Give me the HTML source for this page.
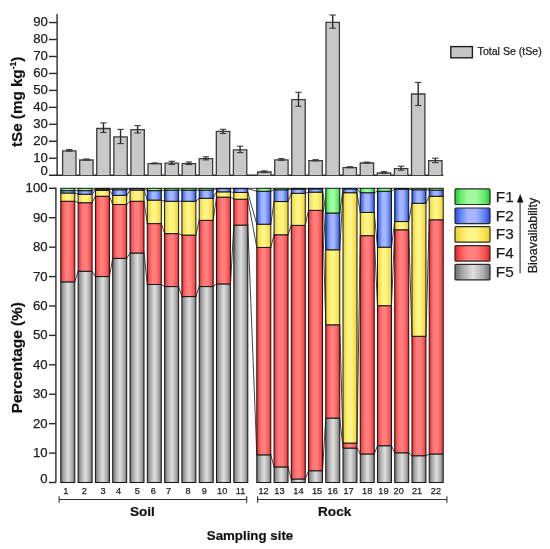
<!DOCTYPE html>
<html><head><meta charset="utf-8"><title>Total Se and fractions</title>
<style>html,body{margin:0;padding:0;background:#fff;}svg{display:block;}text{font-family:"Liberation Sans",Arial,sans-serif;fill:#1e1e1e;}text.t{stroke:#1e1e1e;stroke-width:0.25px;}text.b{fill:#111;stroke:#111;stroke-width:0.2px;font-weight:bold;}</style>
</head><body>
<svg width="550" height="549" viewBox="0 0 550 549">
<defs>
<linearGradient id="gg" x1="0" y1="0" x2="1" y2="0"><stop offset="0" stop-color="#1fc82e"/><stop offset="0.14" stop-color="#5ee866"/><stop offset="0.36" stop-color="#a0fa9e"/><stop offset="0.6" stop-color="#a0fa9e"/><stop offset="0.86" stop-color="#5ee866"/><stop offset="1" stop-color="#1fc82e"/></linearGradient>
<linearGradient id="gb" x1="0" y1="0" x2="1" y2="0"><stop offset="0" stop-color="#2248dc"/><stop offset="0.14" stop-color="#5a7cf0"/><stop offset="0.36" stop-color="#a3b6ff"/><stop offset="0.6" stop-color="#a3b6ff"/><stop offset="0.86" stop-color="#5a7cf0"/><stop offset="1" stop-color="#2248dc"/></linearGradient>
<linearGradient id="gy" x1="0" y1="0" x2="1" y2="0"><stop offset="0" stop-color="#e8ca26"/><stop offset="0.14" stop-color="#f6e04c"/><stop offset="0.36" stop-color="#fff486"/><stop offset="0.6" stop-color="#fff486"/><stop offset="0.86" stop-color="#f6e04c"/><stop offset="1" stop-color="#e8ca26"/></linearGradient>
<linearGradient id="gr" x1="0" y1="0" x2="1" y2="0"><stop offset="0" stop-color="#e41e1e"/><stop offset="0.14" stop-color="#f95252"/><stop offset="0.36" stop-color="#ff7e7e"/><stop offset="0.6" stop-color="#ff7e7e"/><stop offset="0.86" stop-color="#f95252"/><stop offset="1" stop-color="#e41e1e"/></linearGradient>
<linearGradient id="gk" x1="0" y1="0" x2="1" y2="0"><stop offset="0" stop-color="#6c6c6c"/><stop offset="0.22" stop-color="#aaaaaa"/><stop offset="0.52" stop-color="#e0e0e0"/><stop offset="0.82" stop-color="#aaaaaa"/><stop offset="1" stop-color="#6c6c6c"/></linearGradient>
</defs>
<rect width="550" height="549" fill="#fff"/>
<g stroke="#2a2a2a" stroke-width="1.4" fill="none">
<line x1="57.1" y1="14" x2="57.1" y2="175.2"/>
<line x1="49" y1="175.2" x2="443.3" y2="175.2"/>
<line x1="49" y1="158.24" x2="57" y2="158.24"/>
<line x1="49" y1="141.28" x2="57" y2="141.28"/>
<line x1="49" y1="124.32" x2="57" y2="124.32"/>
<line x1="49" y1="107.36" x2="57" y2="107.36"/>
<line x1="49" y1="90.40" x2="57" y2="90.40"/>
<line x1="49" y1="73.44" x2="57" y2="73.44"/>
<line x1="49" y1="56.48" x2="57" y2="56.48"/>
<line x1="49" y1="39.52" x2="57" y2="39.52"/>
<line x1="49" y1="22.56" x2="57" y2="22.56"/>
</g>
<text class="t" x="47.8" y="175.00" font-size="13.2" text-anchor="end">0</text>
<text class="t" x="47.8" y="162.04" font-size="13.2" text-anchor="end">10</text>
<text class="t" x="47.8" y="145.08" font-size="13.2" text-anchor="end">20</text>
<text class="t" x="47.8" y="128.12" font-size="13.2" text-anchor="end">30</text>
<text class="t" x="47.8" y="111.16" font-size="13.2" text-anchor="end">40</text>
<text class="t" x="47.8" y="94.20" font-size="13.2" text-anchor="end">50</text>
<text class="t" x="47.8" y="77.24" font-size="13.2" text-anchor="end">60</text>
<text class="t" x="47.8" y="60.28" font-size="13.2" text-anchor="end">70</text>
<text class="t" x="47.8" y="43.32" font-size="13.2" text-anchor="end">80</text>
<text class="t" x="47.8" y="26.36" font-size="13.2" text-anchor="end">90</text>
<rect x="62.60" y="150.80" width="13.40" height="24.40" fill="#c8c8c8" stroke="none"/>
<path d="M62.60,175.2 V150.80 H76.00 V175.2" fill="none" stroke="#3c3c3c" stroke-width="1.3"/>
<line x1="69.30" y1="149.60" x2="69.30" y2="151.20" stroke="#2a2a2a" stroke-width="1.4"/><g stroke="#3a3a3a" stroke-width="1.1"><line x1="66.10" y1="149.60" x2="72.50" y2="149.60"/><line x1="66.10" y1="151.20" x2="72.50" y2="151.20"/></g>
<rect x="79.68" y="160.00" width="13.40" height="15.20" fill="#c8c8c8" stroke="none"/>
<path d="M79.68,175.2 V160.00 H93.08 V175.2" fill="none" stroke="#3c3c3c" stroke-width="1.3"/>
<line x1="86.38" y1="159.00" x2="86.38" y2="160.20" stroke="#2a2a2a" stroke-width="1.4"/><g stroke="#3a3a3a" stroke-width="1.1"><line x1="83.18" y1="159.00" x2="89.58" y2="159.00"/><line x1="83.18" y1="160.20" x2="89.58" y2="160.20"/></g>
<rect x="96.76" y="128.50" width="13.40" height="46.70" fill="#c8c8c8" stroke="none"/>
<path d="M96.76,175.2 V128.50 H110.16 V175.2" fill="none" stroke="#3c3c3c" stroke-width="1.3"/>
<line x1="103.46" y1="122.90" x2="103.46" y2="132.50" stroke="#2a2a2a" stroke-width="1.4"/><g stroke="#3a3a3a" stroke-width="1.1"><line x1="100.26" y1="122.90" x2="106.66" y2="122.90"/><line x1="100.26" y1="132.50" x2="106.66" y2="132.50"/></g>
<rect x="113.84" y="136.90" width="13.40" height="38.30" fill="#c8c8c8" stroke="none"/>
<path d="M113.84,175.2 V136.90 H127.24 V175.2" fill="none" stroke="#3c3c3c" stroke-width="1.3"/>
<line x1="120.54" y1="129.40" x2="120.54" y2="143.60" stroke="#2a2a2a" stroke-width="1.4"/><g stroke="#3a3a3a" stroke-width="1.1"><line x1="117.34" y1="129.40" x2="123.74" y2="129.40"/><line x1="117.34" y1="143.60" x2="123.74" y2="143.60"/></g>
<rect x="130.92" y="129.60" width="13.40" height="45.60" fill="#c8c8c8" stroke="none"/>
<path d="M130.92,175.2 V129.60 H144.32 V175.2" fill="none" stroke="#3c3c3c" stroke-width="1.3"/>
<line x1="137.62" y1="125.60" x2="137.62" y2="133.00" stroke="#2a2a2a" stroke-width="1.4"/><g stroke="#3a3a3a" stroke-width="1.1"><line x1="134.42" y1="125.60" x2="140.82" y2="125.60"/><line x1="134.42" y1="133.00" x2="140.82" y2="133.00"/></g>
<rect x="148.00" y="163.70" width="13.40" height="11.50" fill="#c8c8c8" stroke="none"/>
<path d="M148.00,175.2 V163.70 H161.40 V175.2" fill="none" stroke="#3c3c3c" stroke-width="1.3"/>
<line x1="154.70" y1="162.90" x2="154.70" y2="163.70" stroke="#2a2a2a" stroke-width="1.4"/><g stroke="#3a3a3a" stroke-width="1.1"><line x1="151.50" y1="162.90" x2="157.90" y2="162.90"/><line x1="151.50" y1="163.70" x2="157.90" y2="163.70"/></g>
<rect x="165.08" y="163.10" width="13.40" height="12.10" fill="#c8c8c8" stroke="none"/>
<path d="M165.08,175.2 V163.10 H178.48 V175.2" fill="none" stroke="#3c3c3c" stroke-width="1.3"/>
<line x1="171.78" y1="161.30" x2="171.78" y2="164.40" stroke="#2a2a2a" stroke-width="1.4"/><g stroke="#3a3a3a" stroke-width="1.1"><line x1="168.58" y1="161.30" x2="174.98" y2="161.30"/><line x1="168.58" y1="164.40" x2="174.98" y2="164.40"/></g>
<rect x="182.16" y="163.60" width="13.40" height="11.60" fill="#c8c8c8" stroke="none"/>
<path d="M182.16,175.2 V163.60 H195.56 V175.2" fill="none" stroke="#3c3c3c" stroke-width="1.3"/>
<line x1="188.86" y1="162.00" x2="188.86" y2="164.50" stroke="#2a2a2a" stroke-width="1.4"/><g stroke="#3a3a3a" stroke-width="1.1"><line x1="185.66" y1="162.00" x2="192.06" y2="162.00"/><line x1="185.66" y1="164.50" x2="192.06" y2="164.50"/></g>
<rect x="199.24" y="158.60" width="13.40" height="16.60" fill="#c8c8c8" stroke="none"/>
<path d="M199.24,175.2 V158.60 H212.64 V175.2" fill="none" stroke="#3c3c3c" stroke-width="1.3"/>
<line x1="205.94" y1="156.80" x2="205.94" y2="159.90" stroke="#2a2a2a" stroke-width="1.4"/><g stroke="#3a3a3a" stroke-width="1.1"><line x1="202.74" y1="156.80" x2="209.14" y2="156.80"/><line x1="202.74" y1="159.90" x2="209.14" y2="159.90"/></g>
<rect x="216.32" y="131.40" width="13.40" height="43.80" fill="#c8c8c8" stroke="none"/>
<path d="M216.32,175.2 V131.40 H229.72 V175.2" fill="none" stroke="#3c3c3c" stroke-width="1.3"/>
<line x1="223.02" y1="129.30" x2="223.02" y2="133.50" stroke="#2a2a2a" stroke-width="1.4"/><g stroke="#3a3a3a" stroke-width="1.1"><line x1="219.82" y1="129.30" x2="226.22" y2="129.30"/><line x1="219.82" y1="133.50" x2="226.22" y2="133.50"/></g>
<rect x="233.40" y="149.90" width="13.40" height="25.30" fill="#c8c8c8" stroke="none"/>
<path d="M233.40,175.2 V149.90 H246.80 V175.2" fill="none" stroke="#3c3c3c" stroke-width="1.3"/>
<line x1="240.10" y1="146.20" x2="240.10" y2="152.60" stroke="#2a2a2a" stroke-width="1.4"/><g stroke="#3a3a3a" stroke-width="1.1"><line x1="236.90" y1="146.20" x2="243.30" y2="146.20"/><line x1="236.90" y1="152.60" x2="243.30" y2="152.60"/></g>
<rect x="257.60" y="172.00" width="13.40" height="3.20" fill="#c8c8c8" stroke="none"/>
<path d="M257.60,175.2 V172.00 H271.00 V175.2" fill="none" stroke="#3c3c3c" stroke-width="1.3"/>
<line x1="264.30" y1="170.90" x2="264.30" y2="172.60" stroke="#2a2a2a" stroke-width="1.4"/><g stroke="#3a3a3a" stroke-width="1.1"><line x1="261.10" y1="170.90" x2="267.50" y2="170.90"/><line x1="261.10" y1="172.60" x2="267.50" y2="172.60"/></g>
<rect x="274.70" y="159.80" width="13.40" height="15.40" fill="#c8c8c8" stroke="none"/>
<path d="M274.70,175.2 V159.80 H288.10 V175.2" fill="none" stroke="#3c3c3c" stroke-width="1.3"/>
<line x1="281.40" y1="158.60" x2="281.40" y2="160.30" stroke="#2a2a2a" stroke-width="1.4"/><g stroke="#3a3a3a" stroke-width="1.1"><line x1="278.20" y1="158.60" x2="284.60" y2="158.60"/><line x1="278.20" y1="160.30" x2="284.60" y2="160.30"/></g>
<rect x="291.80" y="99.60" width="13.40" height="75.60" fill="#c8c8c8" stroke="none"/>
<path d="M291.80,175.2 V99.60 H305.20 V175.2" fill="none" stroke="#3c3c3c" stroke-width="1.3"/>
<line x1="298.50" y1="92.30" x2="298.50" y2="106.30" stroke="#2a2a2a" stroke-width="1.4"/><g stroke="#3a3a3a" stroke-width="1.1"><line x1="295.30" y1="92.30" x2="301.70" y2="92.30"/><line x1="295.30" y1="106.30" x2="301.70" y2="106.30"/></g>
<rect x="308.90" y="160.70" width="13.40" height="14.50" fill="#c8c8c8" stroke="none"/>
<path d="M308.90,175.2 V160.70 H322.30 V175.2" fill="none" stroke="#3c3c3c" stroke-width="1.3"/>
<line x1="315.60" y1="159.70" x2="315.60" y2="160.90" stroke="#2a2a2a" stroke-width="1.4"/><g stroke="#3a3a3a" stroke-width="1.1"><line x1="312.40" y1="159.70" x2="318.80" y2="159.70"/><line x1="312.40" y1="160.90" x2="318.80" y2="160.90"/></g>
<rect x="326.00" y="22.30" width="13.40" height="152.90" fill="#c8c8c8" stroke="none"/>
<path d="M326.00,175.2 V22.30 H339.40 V175.2" fill="none" stroke="#3c3c3c" stroke-width="1.3"/>
<line x1="332.70" y1="15.00" x2="332.70" y2="28.20" stroke="#2a2a2a" stroke-width="1.4"/><g stroke="#3a3a3a" stroke-width="1.1"><line x1="329.50" y1="15.00" x2="335.90" y2="15.00"/><line x1="329.50" y1="28.20" x2="335.90" y2="28.20"/></g>
<rect x="343.10" y="167.60" width="13.40" height="7.60" fill="#c8c8c8" stroke="none"/>
<path d="M343.10,175.2 V167.60 H356.50 V175.2" fill="none" stroke="#3c3c3c" stroke-width="1.3"/>
<line x1="349.80" y1="166.70" x2="349.80" y2="167.70" stroke="#2a2a2a" stroke-width="1.4"/><g stroke="#3a3a3a" stroke-width="1.1"><line x1="346.60" y1="166.70" x2="353.00" y2="166.70"/><line x1="346.60" y1="167.70" x2="353.00" y2="167.70"/></g>
<rect x="360.20" y="163.00" width="13.40" height="12.20" fill="#c8c8c8" stroke="none"/>
<path d="M360.20,175.2 V163.00 H373.60 V175.2" fill="none" stroke="#3c3c3c" stroke-width="1.3"/>
<line x1="366.90" y1="162.10" x2="366.90" y2="163.10" stroke="#2a2a2a" stroke-width="1.4"/><g stroke="#3a3a3a" stroke-width="1.1"><line x1="363.70" y1="162.10" x2="370.10" y2="162.10"/><line x1="363.70" y1="163.10" x2="370.10" y2="163.10"/></g>
<rect x="377.30" y="173.00" width="13.40" height="2.20" fill="#c8c8c8" stroke="none"/>
<path d="M377.30,175.2 V173.00 H390.70 V175.2" fill="none" stroke="#3c3c3c" stroke-width="1.3"/>
<line x1="384.00" y1="171.60" x2="384.00" y2="173.50" stroke="#2a2a2a" stroke-width="1.4"/><g stroke="#3a3a3a" stroke-width="1.1"><line x1="380.80" y1="171.60" x2="387.20" y2="171.60"/><line x1="380.80" y1="173.50" x2="387.20" y2="173.50"/></g>
<rect x="394.40" y="168.60" width="13.40" height="6.60" fill="#c8c8c8" stroke="none"/>
<path d="M394.40,175.2 V168.60 H407.80 V175.2" fill="none" stroke="#3c3c3c" stroke-width="1.3"/>
<line x1="401.10" y1="166.20" x2="401.10" y2="170.20" stroke="#2a2a2a" stroke-width="1.4"/><g stroke="#3a3a3a" stroke-width="1.1"><line x1="397.90" y1="166.20" x2="404.30" y2="166.20"/><line x1="397.90" y1="170.20" x2="404.30" y2="170.20"/></g>
<rect x="411.50" y="94.00" width="13.40" height="81.20" fill="#c8c8c8" stroke="none"/>
<path d="M411.50,175.2 V94.00 H424.90 V175.2" fill="none" stroke="#3c3c3c" stroke-width="1.3"/>
<line x1="418.20" y1="82.40" x2="418.20" y2="105.50" stroke="#2a2a2a" stroke-width="1.4"/><g stroke="#3a3a3a" stroke-width="1.1"><line x1="415.00" y1="82.40" x2="421.40" y2="82.40"/><line x1="415.00" y1="105.50" x2="421.40" y2="105.50"/></g>
<rect x="428.60" y="160.60" width="13.40" height="14.60" fill="#c8c8c8" stroke="none"/>
<path d="M428.60,175.2 V160.60 H442.00 V175.2" fill="none" stroke="#3c3c3c" stroke-width="1.3"/>
<line x1="435.30" y1="158.20" x2="435.30" y2="162.60" stroke="#2a2a2a" stroke-width="1.4"/><g stroke="#3a3a3a" stroke-width="1.1"><line x1="432.10" y1="158.20" x2="438.50" y2="158.20"/><line x1="432.10" y1="162.60" x2="438.50" y2="162.60"/></g>
<rect x="450.8" y="46.6" width="21.6" height="11.2" fill="#c6c6c6" stroke="#1e1e1e" stroke-width="1.4"/>
<text class="t" x="477.6" y="54.9" font-size="10.6">Total Se (tSe)</text>
<text class="b" transform="translate(21.8,147.0) rotate(-90)" font-size="15.2">tSe (mg kg<tspan font-size="8.7" dy="-6.2">-1</tspan><tspan dy="6.2">)</tspan></text>
<g stroke="#2a2a2a" stroke-width="1.4" fill="none">
<line x1="55.9" y1="187.5" x2="55.9" y2="482.5"/>
<line x1="49" y1="482.50" x2="55.9" y2="482.50"/>
<line x1="49" y1="453.08" x2="55.9" y2="453.08"/>
<line x1="49" y1="423.66" x2="55.9" y2="423.66"/>
<line x1="49" y1="394.24" x2="55.9" y2="394.24"/>
<line x1="49" y1="364.82" x2="55.9" y2="364.82"/>
<line x1="49" y1="335.40" x2="55.9" y2="335.40"/>
<line x1="49" y1="305.98" x2="55.9" y2="305.98"/>
<line x1="49" y1="276.56" x2="55.9" y2="276.56"/>
<line x1="49" y1="247.14" x2="55.9" y2="247.14"/>
<line x1="49" y1="217.72" x2="55.9" y2="217.72"/>
<line x1="49" y1="188.30" x2="55.9" y2="188.30"/>
</g>
<text class="t" x="47.6" y="483.40" font-size="13.2" text-anchor="end">0</text>
<text class="t" x="47.6" y="457.08" font-size="13.2" text-anchor="end">10</text>
<text class="t" x="47.6" y="427.66" font-size="13.2" text-anchor="end">20</text>
<text class="t" x="47.6" y="398.24" font-size="13.2" text-anchor="end">30</text>
<text class="t" x="47.6" y="368.82" font-size="13.2" text-anchor="end">40</text>
<text class="t" x="47.6" y="339.40" font-size="13.2" text-anchor="end">50</text>
<text class="t" x="47.6" y="309.98" font-size="13.2" text-anchor="end">60</text>
<text class="t" x="47.6" y="280.56" font-size="13.2" text-anchor="end">70</text>
<text class="t" x="47.6" y="251.14" font-size="13.2" text-anchor="end">80</text>
<text class="t" x="47.6" y="221.72" font-size="13.2" text-anchor="end">90</text>
<text class="t" x="47.6" y="192.30" font-size="13.2" text-anchor="end">100</text>
<rect x="60.80" y="281.86" width="14.00" height="200.64" fill="url(#gk)" stroke="#151515" stroke-width="1"/>
<rect x="60.80" y="201.24" width="14.00" height="80.61" fill="url(#gr)" stroke="#151515" stroke-width="1"/>
<rect x="60.80" y="193.01" width="14.00" height="8.24" fill="url(#gy)" stroke="#151515" stroke-width="1"/>
<rect x="60.80" y="190.65" width="14.00" height="2.35" fill="url(#gb)" stroke="#151515" stroke-width="1"/>
<rect x="60.80" y="188.30" width="14.00" height="2.35" fill="url(#gg)" stroke="#151515" stroke-width="1"/>
<rect x="78.10" y="271.26" width="14.00" height="211.24" fill="url(#gk)" stroke="#151515" stroke-width="1"/>
<rect x="78.10" y="202.72" width="14.00" height="68.55" fill="url(#gr)" stroke="#151515" stroke-width="1"/>
<rect x="78.10" y="194.18" width="14.00" height="8.53" fill="url(#gy)" stroke="#151515" stroke-width="1"/>
<rect x="78.10" y="190.65" width="14.00" height="3.53" fill="url(#gb)" stroke="#151515" stroke-width="1"/>
<rect x="78.10" y="188.30" width="14.00" height="2.35" fill="url(#gg)" stroke="#151515" stroke-width="1"/>
<rect x="95.40" y="276.56" width="14.00" height="205.94" fill="url(#gk)" stroke="#151515" stroke-width="1"/>
<rect x="95.40" y="196.24" width="14.00" height="80.32" fill="url(#gr)" stroke="#151515" stroke-width="1"/>
<rect x="95.40" y="190.36" width="14.00" height="5.88" fill="url(#gy)" stroke="#151515" stroke-width="1"/>
<rect x="95.40" y="189.18" width="14.00" height="1.18" fill="url(#gb)" stroke="#151515" stroke-width="1"/>
<rect x="95.40" y="188.30" width="14.00" height="0.88" fill="url(#gg)" stroke="#151515" stroke-width="1"/>
<rect x="112.70" y="258.32" width="14.00" height="224.18" fill="url(#gk)" stroke="#151515" stroke-width="1"/>
<rect x="112.70" y="204.48" width="14.00" height="53.84" fill="url(#gr)" stroke="#151515" stroke-width="1"/>
<rect x="112.70" y="195.36" width="14.00" height="9.12" fill="url(#gy)" stroke="#151515" stroke-width="1"/>
<rect x="112.70" y="189.77" width="14.00" height="5.59" fill="url(#gb)" stroke="#151515" stroke-width="1"/>
<rect x="112.70" y="188.30" width="14.00" height="1.47" fill="url(#gg)" stroke="#151515" stroke-width="1"/>
<rect x="130.00" y="253.02" width="14.00" height="229.48" fill="url(#gk)" stroke="#151515" stroke-width="1"/>
<rect x="130.00" y="201.24" width="14.00" height="51.78" fill="url(#gr)" stroke="#151515" stroke-width="1"/>
<rect x="130.00" y="190.07" width="14.00" height="11.18" fill="url(#gy)" stroke="#151515" stroke-width="1"/>
<rect x="130.00" y="188.59" width="14.00" height="1.47" fill="url(#gb)" stroke="#151515" stroke-width="1"/>
<rect x="130.00" y="188.30" width="14.00" height="0.29" fill="url(#gg)" stroke="#151515" stroke-width="1"/>
<rect x="147.30" y="284.50" width="14.00" height="198.00" fill="url(#gk)" stroke="#151515" stroke-width="1"/>
<rect x="147.30" y="223.60" width="14.00" height="60.90" fill="url(#gr)" stroke="#151515" stroke-width="1"/>
<rect x="147.30" y="200.07" width="14.00" height="23.54" fill="url(#gy)" stroke="#151515" stroke-width="1"/>
<rect x="147.30" y="190.65" width="14.00" height="9.41" fill="url(#gb)" stroke="#151515" stroke-width="1"/>
<rect x="147.30" y="188.30" width="14.00" height="2.35" fill="url(#gg)" stroke="#151515" stroke-width="1"/>
<rect x="164.60" y="286.56" width="14.00" height="195.94" fill="url(#gk)" stroke="#151515" stroke-width="1"/>
<rect x="164.60" y="233.61" width="14.00" height="52.96" fill="url(#gr)" stroke="#151515" stroke-width="1"/>
<rect x="164.60" y="201.24" width="14.00" height="32.36" fill="url(#gy)" stroke="#151515" stroke-width="1"/>
<rect x="164.60" y="190.07" width="14.00" height="11.18" fill="url(#gb)" stroke="#151515" stroke-width="1"/>
<rect x="164.60" y="188.30" width="14.00" height="1.77" fill="url(#gg)" stroke="#151515" stroke-width="1"/>
<rect x="181.90" y="296.57" width="14.00" height="185.93" fill="url(#gk)" stroke="#151515" stroke-width="1"/>
<rect x="181.90" y="235.08" width="14.00" height="61.49" fill="url(#gr)" stroke="#151515" stroke-width="1"/>
<rect x="181.90" y="201.24" width="14.00" height="33.83" fill="url(#gy)" stroke="#151515" stroke-width="1"/>
<rect x="181.90" y="190.07" width="14.00" height="11.18" fill="url(#gb)" stroke="#151515" stroke-width="1"/>
<rect x="181.90" y="188.30" width="14.00" height="1.77" fill="url(#gg)" stroke="#151515" stroke-width="1"/>
<rect x="199.20" y="286.56" width="14.00" height="195.94" fill="url(#gk)" stroke="#151515" stroke-width="1"/>
<rect x="199.20" y="220.37" width="14.00" height="66.20" fill="url(#gr)" stroke="#151515" stroke-width="1"/>
<rect x="199.20" y="198.30" width="14.00" height="22.06" fill="url(#gy)" stroke="#151515" stroke-width="1"/>
<rect x="199.20" y="190.07" width="14.00" height="8.24" fill="url(#gb)" stroke="#151515" stroke-width="1"/>
<rect x="199.20" y="188.30" width="14.00" height="1.77" fill="url(#gg)" stroke="#151515" stroke-width="1"/>
<rect x="216.50" y="283.91" width="14.00" height="198.59" fill="url(#gk)" stroke="#151515" stroke-width="1"/>
<rect x="216.50" y="197.13" width="14.00" height="86.79" fill="url(#gr)" stroke="#151515" stroke-width="1"/>
<rect x="216.50" y="191.83" width="14.00" height="5.30" fill="url(#gy)" stroke="#151515" stroke-width="1"/>
<rect x="216.50" y="188.59" width="14.00" height="3.24" fill="url(#gb)" stroke="#151515" stroke-width="1"/>
<rect x="216.50" y="188.30" width="14.00" height="0.29" fill="url(#gg)" stroke="#151515" stroke-width="1"/>
<rect x="233.80" y="225.07" width="14.00" height="257.43" fill="url(#gk)" stroke="#151515" stroke-width="1"/>
<rect x="233.80" y="199.19" width="14.00" height="25.89" fill="url(#gr)" stroke="#151515" stroke-width="1"/>
<rect x="233.80" y="192.42" width="14.00" height="6.77" fill="url(#gy)" stroke="#151515" stroke-width="1"/>
<rect x="233.80" y="188.59" width="14.00" height="3.82" fill="url(#gb)" stroke="#151515" stroke-width="1"/>
<rect x="233.80" y="188.30" width="14.00" height="0.29" fill="url(#gg)" stroke="#151515" stroke-width="1"/>
<rect x="256.80" y="454.85" width="14.00" height="27.65" fill="url(#gk)" stroke="#151515" stroke-width="1"/>
<rect x="256.80" y="247.43" width="14.00" height="207.41" fill="url(#gr)" stroke="#151515" stroke-width="1"/>
<rect x="256.80" y="224.19" width="14.00" height="23.24" fill="url(#gy)" stroke="#151515" stroke-width="1"/>
<rect x="256.80" y="191.24" width="14.00" height="32.95" fill="url(#gb)" stroke="#151515" stroke-width="1"/>
<rect x="256.80" y="188.30" width="14.00" height="2.94" fill="url(#gg)" stroke="#151515" stroke-width="1"/>
<rect x="274.04" y="466.91" width="14.00" height="15.59" fill="url(#gk)" stroke="#151515" stroke-width="1"/>
<rect x="274.04" y="234.78" width="14.00" height="232.12" fill="url(#gr)" stroke="#151515" stroke-width="1"/>
<rect x="274.04" y="201.54" width="14.00" height="33.24" fill="url(#gy)" stroke="#151515" stroke-width="1"/>
<rect x="274.04" y="189.77" width="14.00" height="11.77" fill="url(#gb)" stroke="#151515" stroke-width="1"/>
<rect x="274.04" y="188.30" width="14.00" height="1.47" fill="url(#gg)" stroke="#151515" stroke-width="1"/>
<rect x="291.28" y="478.97" width="14.00" height="3.53" fill="url(#gk)" stroke="#151515" stroke-width="1"/>
<rect x="291.28" y="225.37" width="14.00" height="253.60" fill="url(#gr)" stroke="#151515" stroke-width="1"/>
<rect x="291.28" y="193.30" width="14.00" height="32.07" fill="url(#gy)" stroke="#151515" stroke-width="1"/>
<rect x="291.28" y="189.18" width="14.00" height="4.12" fill="url(#gb)" stroke="#151515" stroke-width="1"/>
<rect x="291.28" y="188.30" width="14.00" height="0.88" fill="url(#gg)" stroke="#151515" stroke-width="1"/>
<rect x="308.52" y="470.73" width="14.00" height="11.77" fill="url(#gk)" stroke="#151515" stroke-width="1"/>
<rect x="308.52" y="210.37" width="14.00" height="260.37" fill="url(#gr)" stroke="#151515" stroke-width="1"/>
<rect x="308.52" y="192.12" width="14.00" height="18.24" fill="url(#gy)" stroke="#151515" stroke-width="1"/>
<rect x="308.52" y="188.89" width="14.00" height="3.24" fill="url(#gb)" stroke="#151515" stroke-width="1"/>
<rect x="308.52" y="188.30" width="14.00" height="0.59" fill="url(#gg)" stroke="#151515" stroke-width="1"/>
<rect x="325.76" y="418.07" width="14.00" height="64.43" fill="url(#gk)" stroke="#151515" stroke-width="1"/>
<rect x="325.76" y="324.81" width="14.00" height="93.26" fill="url(#gr)" stroke="#151515" stroke-width="1"/>
<rect x="325.76" y="249.79" width="14.00" height="75.02" fill="url(#gy)" stroke="#151515" stroke-width="1"/>
<rect x="325.76" y="213.01" width="14.00" height="36.77" fill="url(#gb)" stroke="#151515" stroke-width="1"/>
<rect x="325.76" y="188.30" width="14.00" height="24.71" fill="url(#gg)" stroke="#151515" stroke-width="1"/>
<rect x="343.00" y="448.08" width="14.00" height="34.42" fill="url(#gk)" stroke="#151515" stroke-width="1"/>
<rect x="343.00" y="443.08" width="14.00" height="5.00" fill="url(#gr)" stroke="#151515" stroke-width="1"/>
<rect x="343.00" y="192.71" width="14.00" height="250.36" fill="url(#gy)" stroke="#151515" stroke-width="1"/>
<rect x="343.00" y="188.89" width="14.00" height="3.82" fill="url(#gb)" stroke="#151515" stroke-width="1"/>
<rect x="343.00" y="188.30" width="14.00" height="0.59" fill="url(#gg)" stroke="#151515" stroke-width="1"/>
<rect x="360.24" y="453.96" width="14.00" height="28.54" fill="url(#gk)" stroke="#151515" stroke-width="1"/>
<rect x="360.24" y="235.67" width="14.00" height="218.30" fill="url(#gr)" stroke="#151515" stroke-width="1"/>
<rect x="360.24" y="212.42" width="14.00" height="23.24" fill="url(#gy)" stroke="#151515" stroke-width="1"/>
<rect x="360.24" y="192.71" width="14.00" height="19.71" fill="url(#gb)" stroke="#151515" stroke-width="1"/>
<rect x="360.24" y="188.30" width="14.00" height="4.41" fill="url(#gg)" stroke="#151515" stroke-width="1"/>
<rect x="377.48" y="445.73" width="14.00" height="36.77" fill="url(#gk)" stroke="#151515" stroke-width="1"/>
<rect x="377.48" y="305.69" width="14.00" height="140.04" fill="url(#gr)" stroke="#151515" stroke-width="1"/>
<rect x="377.48" y="247.14" width="14.00" height="58.55" fill="url(#gy)" stroke="#151515" stroke-width="1"/>
<rect x="377.48" y="191.24" width="14.00" height="55.90" fill="url(#gb)" stroke="#151515" stroke-width="1"/>
<rect x="377.48" y="188.30" width="14.00" height="2.94" fill="url(#gg)" stroke="#151515" stroke-width="1"/>
<rect x="394.72" y="452.79" width="14.00" height="29.71" fill="url(#gk)" stroke="#151515" stroke-width="1"/>
<rect x="394.72" y="229.78" width="14.00" height="223.00" fill="url(#gr)" stroke="#151515" stroke-width="1"/>
<rect x="394.72" y="221.54" width="14.00" height="8.24" fill="url(#gy)" stroke="#151515" stroke-width="1"/>
<rect x="394.72" y="189.18" width="14.00" height="32.36" fill="url(#gb)" stroke="#151515" stroke-width="1"/>
<rect x="394.72" y="188.30" width="14.00" height="0.88" fill="url(#gg)" stroke="#151515" stroke-width="1"/>
<rect x="411.96" y="455.73" width="14.00" height="26.77" fill="url(#gk)" stroke="#151515" stroke-width="1"/>
<rect x="411.96" y="336.28" width="14.00" height="119.45" fill="url(#gr)" stroke="#151515" stroke-width="1"/>
<rect x="411.96" y="203.30" width="14.00" height="132.98" fill="url(#gy)" stroke="#151515" stroke-width="1"/>
<rect x="411.96" y="189.77" width="14.00" height="13.53" fill="url(#gb)" stroke="#151515" stroke-width="1"/>
<rect x="411.96" y="188.30" width="14.00" height="1.47" fill="url(#gg)" stroke="#151515" stroke-width="1"/>
<rect x="429.20" y="453.96" width="14.00" height="28.54" fill="url(#gk)" stroke="#151515" stroke-width="1"/>
<rect x="429.20" y="219.78" width="14.00" height="234.18" fill="url(#gr)" stroke="#151515" stroke-width="1"/>
<rect x="429.20" y="196.24" width="14.00" height="23.54" fill="url(#gy)" stroke="#151515" stroke-width="1"/>
<rect x="429.20" y="190.07" width="14.00" height="6.18" fill="url(#gb)" stroke="#151515" stroke-width="1"/>
<rect x="429.20" y="188.30" width="14.00" height="1.77" fill="url(#gg)" stroke="#151515" stroke-width="1"/>
<g stroke="#222" stroke-width="0.85" fill="none">
<line x1="74.80" y1="281.86" x2="78.10" y2="271.26"/>
<line x1="74.80" y1="201.24" x2="78.10" y2="202.72"/>
<line x1="74.80" y1="193.01" x2="78.10" y2="194.18"/>
<line x1="74.80" y1="190.65" x2="78.10" y2="190.65"/>
<line x1="74.80" y1="188.30" x2="78.10" y2="188.30"/>
<line x1="92.10" y1="271.26" x2="95.40" y2="276.56"/>
<line x1="92.10" y1="202.72" x2="95.40" y2="196.24"/>
<line x1="92.10" y1="194.18" x2="95.40" y2="190.36"/>
<line x1="92.10" y1="190.65" x2="95.40" y2="189.18"/>
<line x1="92.10" y1="188.30" x2="95.40" y2="188.30"/>
<line x1="109.40" y1="276.56" x2="112.70" y2="258.32"/>
<line x1="109.40" y1="196.24" x2="112.70" y2="204.48"/>
<line x1="109.40" y1="190.36" x2="112.70" y2="195.36"/>
<line x1="109.40" y1="189.18" x2="112.70" y2="189.77"/>
<line x1="109.40" y1="188.30" x2="112.70" y2="188.30"/>
<line x1="126.70" y1="258.32" x2="130.00" y2="253.02"/>
<line x1="126.70" y1="204.48" x2="130.00" y2="201.24"/>
<line x1="126.70" y1="195.36" x2="130.00" y2="190.07"/>
<line x1="126.70" y1="189.77" x2="130.00" y2="188.59"/>
<line x1="126.70" y1="188.30" x2="130.00" y2="188.30"/>
<line x1="144.00" y1="253.02" x2="147.30" y2="284.50"/>
<line x1="144.00" y1="201.24" x2="147.30" y2="223.60"/>
<line x1="144.00" y1="190.07" x2="147.30" y2="200.07"/>
<line x1="144.00" y1="188.59" x2="147.30" y2="190.65"/>
<line x1="144.00" y1="188.30" x2="147.30" y2="188.30"/>
<line x1="161.30" y1="284.50" x2="164.60" y2="286.56"/>
<line x1="161.30" y1="223.60" x2="164.60" y2="233.61"/>
<line x1="161.30" y1="200.07" x2="164.60" y2="201.24"/>
<line x1="161.30" y1="190.65" x2="164.60" y2="190.07"/>
<line x1="161.30" y1="188.30" x2="164.60" y2="188.30"/>
<line x1="178.60" y1="286.56" x2="181.90" y2="296.57"/>
<line x1="178.60" y1="233.61" x2="181.90" y2="235.08"/>
<line x1="178.60" y1="201.24" x2="181.90" y2="201.24"/>
<line x1="178.60" y1="190.07" x2="181.90" y2="190.07"/>
<line x1="178.60" y1="188.30" x2="181.90" y2="188.30"/>
<line x1="195.90" y1="296.57" x2="199.20" y2="286.56"/>
<line x1="195.90" y1="235.08" x2="199.20" y2="220.37"/>
<line x1="195.90" y1="201.24" x2="199.20" y2="198.30"/>
<line x1="195.90" y1="190.07" x2="199.20" y2="190.07"/>
<line x1="195.90" y1="188.30" x2="199.20" y2="188.30"/>
<line x1="213.20" y1="286.56" x2="216.50" y2="283.91"/>
<line x1="213.20" y1="220.37" x2="216.50" y2="197.13"/>
<line x1="213.20" y1="198.30" x2="216.50" y2="191.83"/>
<line x1="213.20" y1="190.07" x2="216.50" y2="188.59"/>
<line x1="213.20" y1="188.30" x2="216.50" y2="188.30"/>
<line x1="230.50" y1="283.91" x2="233.80" y2="225.07"/>
<line x1="230.50" y1="197.13" x2="233.80" y2="199.19"/>
<line x1="230.50" y1="191.83" x2="233.80" y2="192.42"/>
<line x1="230.50" y1="188.59" x2="233.80" y2="188.59"/>
<line x1="230.50" y1="188.30" x2="233.80" y2="188.30"/>
<line x1="247.80" y1="225.07" x2="256.80" y2="454.85"/>
<line x1="247.80" y1="199.19" x2="256.80" y2="247.43"/>
<line x1="247.80" y1="192.42" x2="256.80" y2="224.19"/>
<line x1="247.80" y1="188.59" x2="256.80" y2="191.24"/>
<line x1="247.80" y1="188.30" x2="256.80" y2="188.30"/>
<line x1="270.80" y1="454.85" x2="274.04" y2="466.91"/>
<line x1="270.80" y1="247.43" x2="274.04" y2="234.78"/>
<line x1="270.80" y1="224.19" x2="274.04" y2="201.54"/>
<line x1="270.80" y1="191.24" x2="274.04" y2="189.77"/>
<line x1="270.80" y1="188.30" x2="274.04" y2="188.30"/>
<line x1="288.04" y1="466.91" x2="291.28" y2="478.97"/>
<line x1="288.04" y1="234.78" x2="291.28" y2="225.37"/>
<line x1="288.04" y1="201.54" x2="291.28" y2="193.30"/>
<line x1="288.04" y1="189.77" x2="291.28" y2="189.18"/>
<line x1="288.04" y1="188.30" x2="291.28" y2="188.30"/>
<line x1="305.28" y1="478.97" x2="308.52" y2="470.73"/>
<line x1="305.28" y1="225.37" x2="308.52" y2="210.37"/>
<line x1="305.28" y1="193.30" x2="308.52" y2="192.12"/>
<line x1="305.28" y1="189.18" x2="308.52" y2="188.89"/>
<line x1="305.28" y1="188.30" x2="308.52" y2="188.30"/>
<line x1="322.52" y1="470.73" x2="325.76" y2="418.07"/>
<line x1="322.52" y1="210.37" x2="325.76" y2="324.81"/>
<line x1="322.52" y1="192.12" x2="325.76" y2="249.79"/>
<line x1="322.52" y1="188.89" x2="325.76" y2="213.01"/>
<line x1="322.52" y1="188.30" x2="325.76" y2="188.30"/>
<line x1="339.76" y1="418.07" x2="343.00" y2="448.08"/>
<line x1="339.76" y1="324.81" x2="343.00" y2="443.08"/>
<line x1="339.76" y1="249.79" x2="343.00" y2="192.71"/>
<line x1="339.76" y1="213.01" x2="343.00" y2="188.89"/>
<line x1="339.76" y1="188.30" x2="343.00" y2="188.30"/>
<line x1="357.00" y1="448.08" x2="360.24" y2="453.96"/>
<line x1="357.00" y1="443.08" x2="360.24" y2="235.67"/>
<line x1="357.00" y1="192.71" x2="360.24" y2="212.42"/>
<line x1="357.00" y1="188.89" x2="360.24" y2="192.71"/>
<line x1="357.00" y1="188.30" x2="360.24" y2="188.30"/>
<line x1="374.24" y1="453.96" x2="377.48" y2="445.73"/>
<line x1="374.24" y1="235.67" x2="377.48" y2="305.69"/>
<line x1="374.24" y1="212.42" x2="377.48" y2="247.14"/>
<line x1="374.24" y1="192.71" x2="377.48" y2="191.24"/>
<line x1="374.24" y1="188.30" x2="377.48" y2="188.30"/>
<line x1="391.48" y1="445.73" x2="394.72" y2="452.79"/>
<line x1="391.48" y1="305.69" x2="394.72" y2="229.78"/>
<line x1="391.48" y1="247.14" x2="394.72" y2="221.54"/>
<line x1="391.48" y1="191.24" x2="394.72" y2="189.18"/>
<line x1="391.48" y1="188.30" x2="394.72" y2="188.30"/>
<line x1="408.72" y1="452.79" x2="411.96" y2="455.73"/>
<line x1="408.72" y1="229.78" x2="411.96" y2="336.28"/>
<line x1="408.72" y1="221.54" x2="411.96" y2="203.30"/>
<line x1="408.72" y1="189.18" x2="411.96" y2="189.77"/>
<line x1="408.72" y1="188.30" x2="411.96" y2="188.30"/>
<line x1="425.96" y1="455.73" x2="429.20" y2="453.96"/>
<line x1="425.96" y1="336.28" x2="429.20" y2="219.78"/>
<line x1="425.96" y1="203.30" x2="429.20" y2="196.24"/>
<line x1="425.96" y1="189.77" x2="429.20" y2="190.07"/>
<line x1="425.96" y1="188.30" x2="429.20" y2="188.30"/>
</g>
<text class="t" x="65.90" y="493.8" font-size="9.2" text-anchor="middle">1</text>
<text class="t" x="84.30" y="493.8" font-size="9.2" text-anchor="middle">2</text>
<text class="t" x="103.00" y="493.8" font-size="9.2" text-anchor="middle">3</text>
<text class="t" x="118.50" y="493.8" font-size="9.2" text-anchor="middle">4</text>
<text class="t" x="137.30" y="493.8" font-size="9.2" text-anchor="middle">5</text>
<text class="t" x="153.20" y="493.8" font-size="9.2" text-anchor="middle">6</text>
<text class="t" x="168.50" y="493.8" font-size="9.2" text-anchor="middle">7</text>
<text class="t" x="188.00" y="493.8" font-size="9.2" text-anchor="middle">8</text>
<text class="t" x="204.40" y="493.8" font-size="9.2" text-anchor="middle">9</text>
<text class="t" x="222.20" y="493.8" font-size="9.2" text-anchor="middle">10</text>
<text class="t" x="240.50" y="493.8" font-size="9.2" text-anchor="middle">11</text>
<text class="t" x="263.60" y="493.8" font-size="9.2" text-anchor="middle">12</text>
<text class="t" x="279.40" y="493.8" font-size="9.2" text-anchor="middle">13</text>
<text class="t" x="298.40" y="493.8" font-size="9.2" text-anchor="middle">14</text>
<text class="t" x="317.00" y="493.8" font-size="9.2" text-anchor="middle">15</text>
<text class="t" x="332.70" y="493.8" font-size="9.2" text-anchor="middle">16</text>
<text class="t" x="348.60" y="493.8" font-size="9.2" text-anchor="middle">17</text>
<text class="t" x="367.20" y="493.8" font-size="9.2" text-anchor="middle">18</text>
<text class="t" x="383.40" y="493.8" font-size="9.2" text-anchor="middle">19</text>
<text class="t" x="398.70" y="493.8" font-size="9.2" text-anchor="middle">20</text>
<text class="t" x="417.10" y="493.8" font-size="9.2" text-anchor="middle">21</text>
<text class="t" x="435.90" y="493.8" font-size="9.2" text-anchor="middle">22</text>
<g stroke="#333" stroke-width="1.1" fill="none">
<line x1="59.1" y1="499.5" x2="246.7" y2="499.5"/>
<line x1="59.1" y1="496.3" x2="59.1" y2="502.7"/>
<line x1="246.7" y1="496.3" x2="246.7" y2="502.7"/>
<line x1="257.6" y1="499.5" x2="446.9" y2="499.5"/>
<line x1="257.6" y1="496.3" x2="257.6" y2="502.7"/>
<line x1="446.9" y1="496.3" x2="446.9" y2="502.7"/>
</g>
<text class="b" x="142.45" y="516.2" font-size="13.6" text-anchor="middle">Soil</text>
<text class="b" x="334.65" y="516" font-size="13.6" text-anchor="middle">Rock</text>
<text class="b" x="250" y="539.6" font-size="13.3" text-anchor="middle">Sampling site</text>
<text class="b" transform="translate(22.3,357.7) rotate(-90)" font-size="15.4" text-anchor="middle">Percentage (%)</text>
<rect x="455" y="188.90" width="35" height="15.6" rx="1" fill="url(#gg)" stroke="#2a2a2a" stroke-width="1.2"/>
<text class="t" x="495.8" y="201.60" font-size="15.3">F1</text>
<rect x="455" y="208.00" width="35" height="15.6" rx="1" fill="url(#gb)" stroke="#2a2a2a" stroke-width="1.2"/>
<text class="t" x="495.8" y="220.70" font-size="15.3">F2</text>
<rect x="455" y="226.60" width="35" height="15.6" rx="1" fill="url(#gy)" stroke="#2a2a2a" stroke-width="1.2"/>
<text class="t" x="495.8" y="239.30" font-size="15.3">F3</text>
<rect x="455" y="245.60" width="35" height="15.6" rx="1" fill="url(#gr)" stroke="#2a2a2a" stroke-width="1.2"/>
<text class="t" x="495.8" y="258.30" font-size="15.3">F4</text>
<rect x="455" y="264.30" width="35" height="15.6" rx="1" fill="url(#gk)" stroke="#2a2a2a" stroke-width="1.2"/>
<text class="t" x="495.8" y="277.00" font-size="15.3">F5</text>
<line x1="520.1" y1="201" x2="520.1" y2="273.3" stroke="#666" stroke-width="1.5"/>
<path d="M516.9,202.5 L520.2,194 L523.5,202.5 Z" fill="#111"/>
<text class="t" transform="translate(537.3,273.2) rotate(-90)" font-size="12.45">Bioavailability</text>
</svg>
</body></html>
